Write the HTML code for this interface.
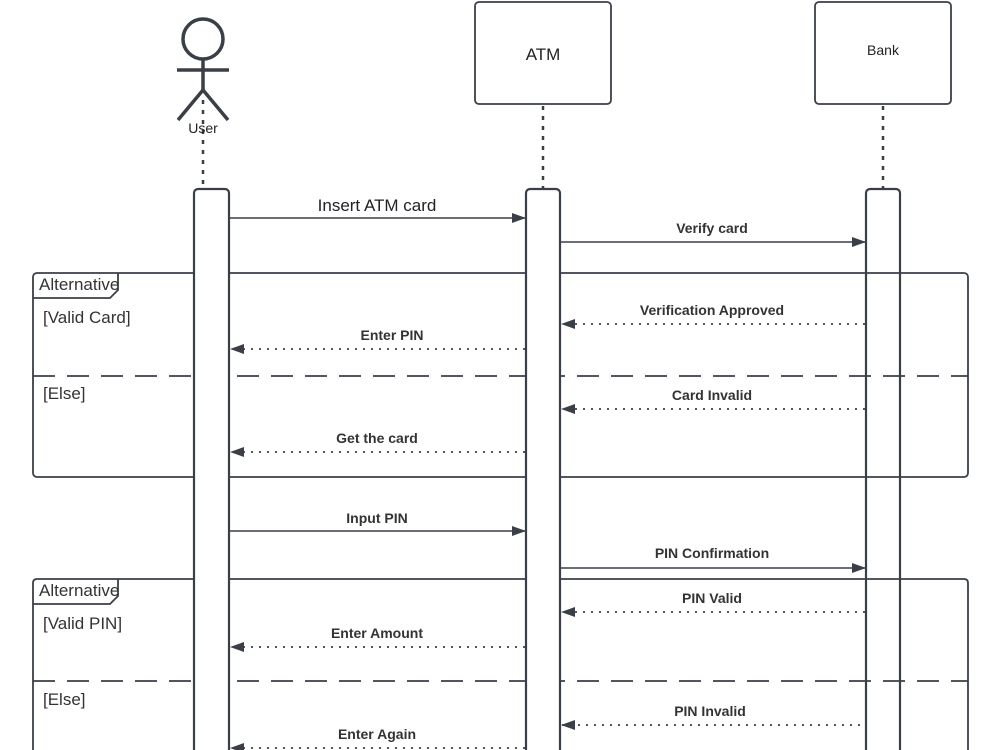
<!DOCTYPE html>
<html><head><meta charset="utf-8"><style>
html,body{margin:0;padding:0;background:#fff;}
svg{display:block;font-family:"Liberation Sans",Arial,sans-serif;}
.b{font-weight:bold;font-size:14px;fill:#333;}
</style></head><body>
<svg width="1000" height="750" viewBox="0 0 1000 750" xmlns="http://www.w3.org/2000/svg">
<defs>
<marker id="ar" markerWidth="14" markerHeight="10" refX="13" refY="5" orient="auto" markerUnits="userSpaceOnUse">
<path d="M0,0 L14,5 L0,10 Z" fill="#3a3f47"/></marker>
</defs>
<g stroke="#3a3f47" fill="none">
<circle cx="203" cy="39" r="20" stroke-width="3.5"/>
<line x1="203" y1="59" x2="203" y2="92" stroke-width="3.5"/>
<line x1="177" y1="70" x2="229" y2="70" stroke-width="3.5"/>
<line x1="203" y1="90" x2="178" y2="120" stroke-width="3.5"/>
<line x1="203" y1="90" x2="228" y2="120" stroke-width="3.5"/>
<rect x="475" y="2" width="136" height="102" rx="4" stroke-width="1.8"/>
<rect x="815" y="2" width="136" height="102" rx="4" stroke-width="1.8"/>
<line x1="203" y1="100" x2="203" y2="189" stroke-width="2.5" stroke-dasharray="4,6"/>
<line x1="543" y1="106" x2="543" y2="189" stroke-width="2.5" stroke-dasharray="4,6"/>
<line x1="883" y1="106" x2="883" y2="189" stroke-width="2.5" stroke-dasharray="4,6"/>
<rect x="866" y="189" width="34" height="580" rx="4" fill="#fff" stroke-width="2.2"/>
<rect x="33" y="273" width="935" height="204" rx="4" stroke-width="1.8"/>
<path d="M33,298 H110 L118,290 V273" stroke-width="1.8"/>
<line x1="33" y1="376" x2="968" y2="376" stroke-width="1.8" stroke-dasharray="22,12"/>
<path d="M968,760 V583 Q968,579 964,579 H37 Q33,579 33,583 V760" stroke-width="1.8"/>
<path d="M33,604 H110 L118,596 V579" stroke-width="1.8"/>
<line x1="33" y1="681" x2="968" y2="681" stroke-width="1.8" stroke-dasharray="22,12"/>
<rect x="194" y="189" width="35" height="580" rx="4" fill="#fff" stroke-width="2.2"/>
<rect x="526" y="189" width="34" height="580" rx="4" fill="#fff" stroke-width="2.2"/>
<g stroke-width="1.6">
<line x1="229" y1="218" x2="525" y2="218" marker-end="url(#ar)"/>
<line x1="560" y1="242" x2="865" y2="242" marker-end="url(#ar)"/>
<line x1="229" y1="531" x2="525" y2="531" marker-end="url(#ar)"/>
<line x1="560" y1="568" x2="865" y2="568" marker-end="url(#ar)"/>
</g>
<g stroke-width="1.8" stroke-dasharray="2,6">
<line x1="865" y1="324" x2="562" y2="324" marker-end="url(#ar)"/>
<line x1="525" y1="349" x2="231" y2="349" marker-end="url(#ar)"/>
<line x1="865" y1="409" x2="562" y2="409" marker-end="url(#ar)"/>
<line x1="525" y1="452" x2="231" y2="452" marker-end="url(#ar)"/>
<line x1="865" y1="612" x2="562" y2="612" marker-end="url(#ar)"/>
<line x1="525" y1="647" x2="231" y2="647" marker-end="url(#ar)"/>
<line x1="860" y1="725" x2="562" y2="725" marker-end="url(#ar)"/>
<line x1="525" y1="748" x2="231" y2="748" marker-end="url(#ar)"/>
</g>
</g>
<g fill="#222">
<text x="203" y="133" font-size="14" text-anchor="middle">User</text>
<text x="543" y="60" font-size="17" text-anchor="middle">ATM</text>
<text x="883" y="55" font-size="14" text-anchor="middle">Bank</text>
<text x="377" y="211" font-size="17" text-anchor="middle">Insert ATM card</text>
</g>
<g fill="#333" font-size="17">
<text x="39" y="290">Alternative</text>
<text x="43" y="323">[Valid Card]</text>
<text x="43" y="399">[Else]</text>
<text x="39" y="596">Alternative</text>
<text x="43" y="629">[Valid PIN]</text>
<text x="43" y="705">[Else]</text>
</g>
<g text-anchor="middle">
<text class="b" x="712" y="233">Verify card</text>
<text class="b" x="712" y="315">Verification Approved</text>
<text class="b" x="392" y="340">Enter PIN</text>
<text class="b" x="712" y="400">Card Invalid</text>
<text class="b" x="377" y="443">Get the card</text>
<text class="b" x="377" y="523">Input PIN</text>
<text class="b" x="712" y="558">PIN Confirmation</text>
<text class="b" x="712" y="603">PIN Valid</text>
<text class="b" x="377" y="638">Enter Amount</text>
<text class="b" x="710" y="716">PIN Invalid</text>
<text class="b" x="377" y="739">Enter Again</text>
</g>
</svg>
</body></html>
